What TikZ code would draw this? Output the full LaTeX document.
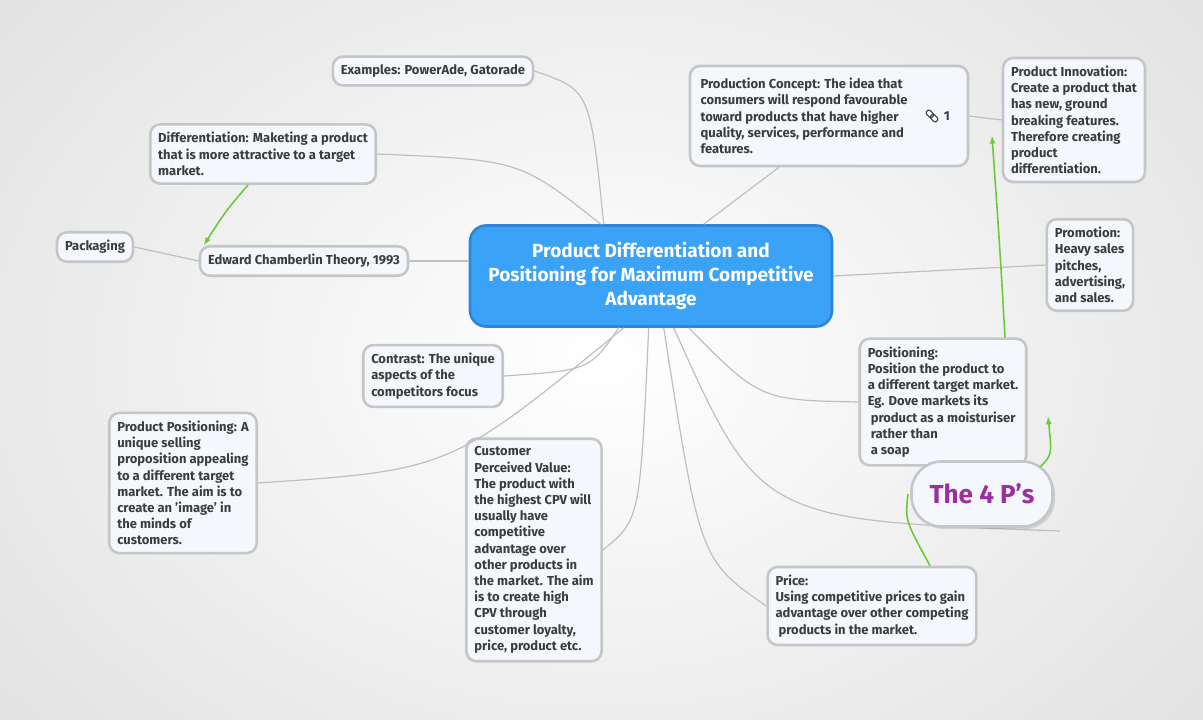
\documentclass[tikz,border=0pt]{standalone}
\usepackage{fontspec}
\setmainfont{Fira Sans}
\usetikzlibrary{shadows}
\begin{document}
\begin{tikzpicture}[x=1pt,y=-1pt,
 box/.style={draw=boxb,line width=2.6pt,fill=boxf,rounded corners=10pt,align=left,font=\fontsize{13}{16.2}\selectfont\bfseries,text=txt,inner sep=8pt},
 con/.style={draw=lin,line width=1.2pt}]
\definecolor{boxb}{HTML}{C4C6C8}\definecolor{boxf}{HTML}{F4F8FD}
\definecolor{txt}{HTML}{3C3C3C}\definecolor{lin}{HTML}{BDBFC2}
\definecolor{cblue}{HTML}{3AA3F7}\definecolor{cbd}{HTML}{2F86D9}
\definecolor{gr}{HTML}{6CCB3A}\definecolor{pur}{HTML}{9B2F9E}
\tikzset{grn/.style={draw=gr,line width=1.6pt,-latex}}
\useasboundingbox (0,0) rectangle (1203,720);
\shade[inner color=white,outer color=black!13] (-300,-300) rectangle (1503,1020);
\node[box,draw=cbd,fill=cblue,text=white,align=center,minimum width=362pt,minimum height=101pt,font=\fontsize{19}{24}\selectfont\bfseries,rounded corners=16pt,inner sep=4pt] (c) at (651,276) {Product Differentiation and\\Positioning for Maximum Competitive\\Advantage};
\node[box] (ex) at (433,71) {Examples: PowerAde, Gatorade};
\node[box] (df) at (263,154) {Differentiation: Maketing a product\\that is more attractive to a target\\market.};
\node[box] (pk) at (95,247) {Packaging};
\node[box] (ed) at (304,261) {Edward Chamberlin Theory, 1993};
\node[box] (ct) at (433,376) {Contrast: The unique\\aspects of the\\competitors focus};
\node[box] (pp) at (183,483) {Product Positioning: A\\unique selling\\proposition appealing\\to a different target\\market. The aim is to\\create an \symbol{39}image\symbol{39} in\\the minds of\\customers.};
\node[box] (cu) at (534,550) {Customer\\Perceived Value:\\The product with\\the highest CPV will\\usually have\\competitive\\advantage over\\other products in\\the market. The aim\\is to create high\\CPV through\\customer loyalty,\\price, product etc.};
\node[box,minimum width=278pt,minimum height=100pt] (pc) at (829,116) {};
\node[align=left,font=\fontsize{13}{16.2}\selectfont\bfseries,text=txt,anchor=west] (pct) at (697,116) {Production Concept: The idea that\\consumers will respond favourable\\toward products that have higher\\quality, services, performance and\\features.};
\node[font=\fontsize{13}{14}\selectfont\bfseries,text=txt] (one) at (947,116) {1};
\begin{scope}[shift={(932,116)},rotate=-45,line width=1.1pt,draw=txt]
\draw[rounded corners=2pt] (-7,-2.5) rectangle (1,2.5);
\draw[rounded corners=2pt] (-1,-2.5) rectangle (7,2.5);
\end{scope}
\node[box] (pi) at (1074,120) {Product Innovation:\\Create a product that\\has new, ground\\breaking features.\\Therefore creating\\product\\differentiation.};
\node[box] (pr) at (1090,265) {Promotion:\\Heavy sales\\pitches,\\advertising,\\and sales.};
\node[box] (ps) at (943,402) {Positioning:\\Position the product to\\a different target market.\\Eg. Dove markets its\\\hspace*{3pt}product as a moisturiser\\\hspace*{3pt}rather than\\\hspace*{3pt}a soap};
\node[box] (pz) at (872,606) {Price:\\Using competitive prices to gain\\advantage over other competing\\\hspace*{3pt}products in the market.};
\coordinate (e4) at (1060,531);
\draw[con] ([xshift=135pt]c.north west) .. controls (590,90) .. (ex.east);
\draw[con] ([xshift=132pt]c.north west) .. controls (520,160) .. (df.east);
\draw[con] (c.west |- ed.east) -- (ed.east);
\draw[con] (pk.east) -- (ed.west);
\draw[con] ([xshift=150pt]c.south west) .. controls (590,370) .. (ct.east);
\draw[con] ([xshift=155pt]c.south west) .. controls (450,470) .. (pp.east);
\draw[con] ([xshift=180pt]c.south west) .. controls (640,520) .. (cu.east);
\draw[con] ([xshift=195pt]c.south west) .. controls (700,560) .. (pz.west);
\draw[con] ([xshift=205pt]c.south west) .. controls (760,520) .. (e4);
\draw[con] ([xshift=220pt]c.south west) .. controls (760,400) .. (ps.west);
\draw[con] (c.east) -- (pr.west);
\draw[con] ([xshift=235pt]c.north west) -- ([xshift=-50pt]pc.south);
\draw[con] (pc.east) -- (pi.west);
\node[box,rounded corners=30pt,minimum width=141pt,minimum height=65pt,text=pur,font=\fontsize{26}{30}\selectfont\bfseries,drop shadow={opacity=0.25},inner sep=4pt] (fp) at (982,494) {The 4 P\symbol{39}s};
\draw[grn] ([xshift=-15pt]df.south) .. controls (225,212) .. ([xshift=-100pt]ed.north);
\draw[grn] ([xshift=58pt,yshift=27pt]fp.center) .. controls (1052,455) .. ([xshift=105pt,yshift=50pt]ps.south);
\draw[grn] ([xshift=62pt]ps.north) .. controls (1000,250) .. ([xshift=-82pt,yshift=-16pt]pi.center);
\draw[draw=gr,line width=1.6pt] ([xshift=-74pt]fp.center) .. controls (905,520) .. ([xshift=58pt]pz.north);
\end{tikzpicture}
\end{document}
